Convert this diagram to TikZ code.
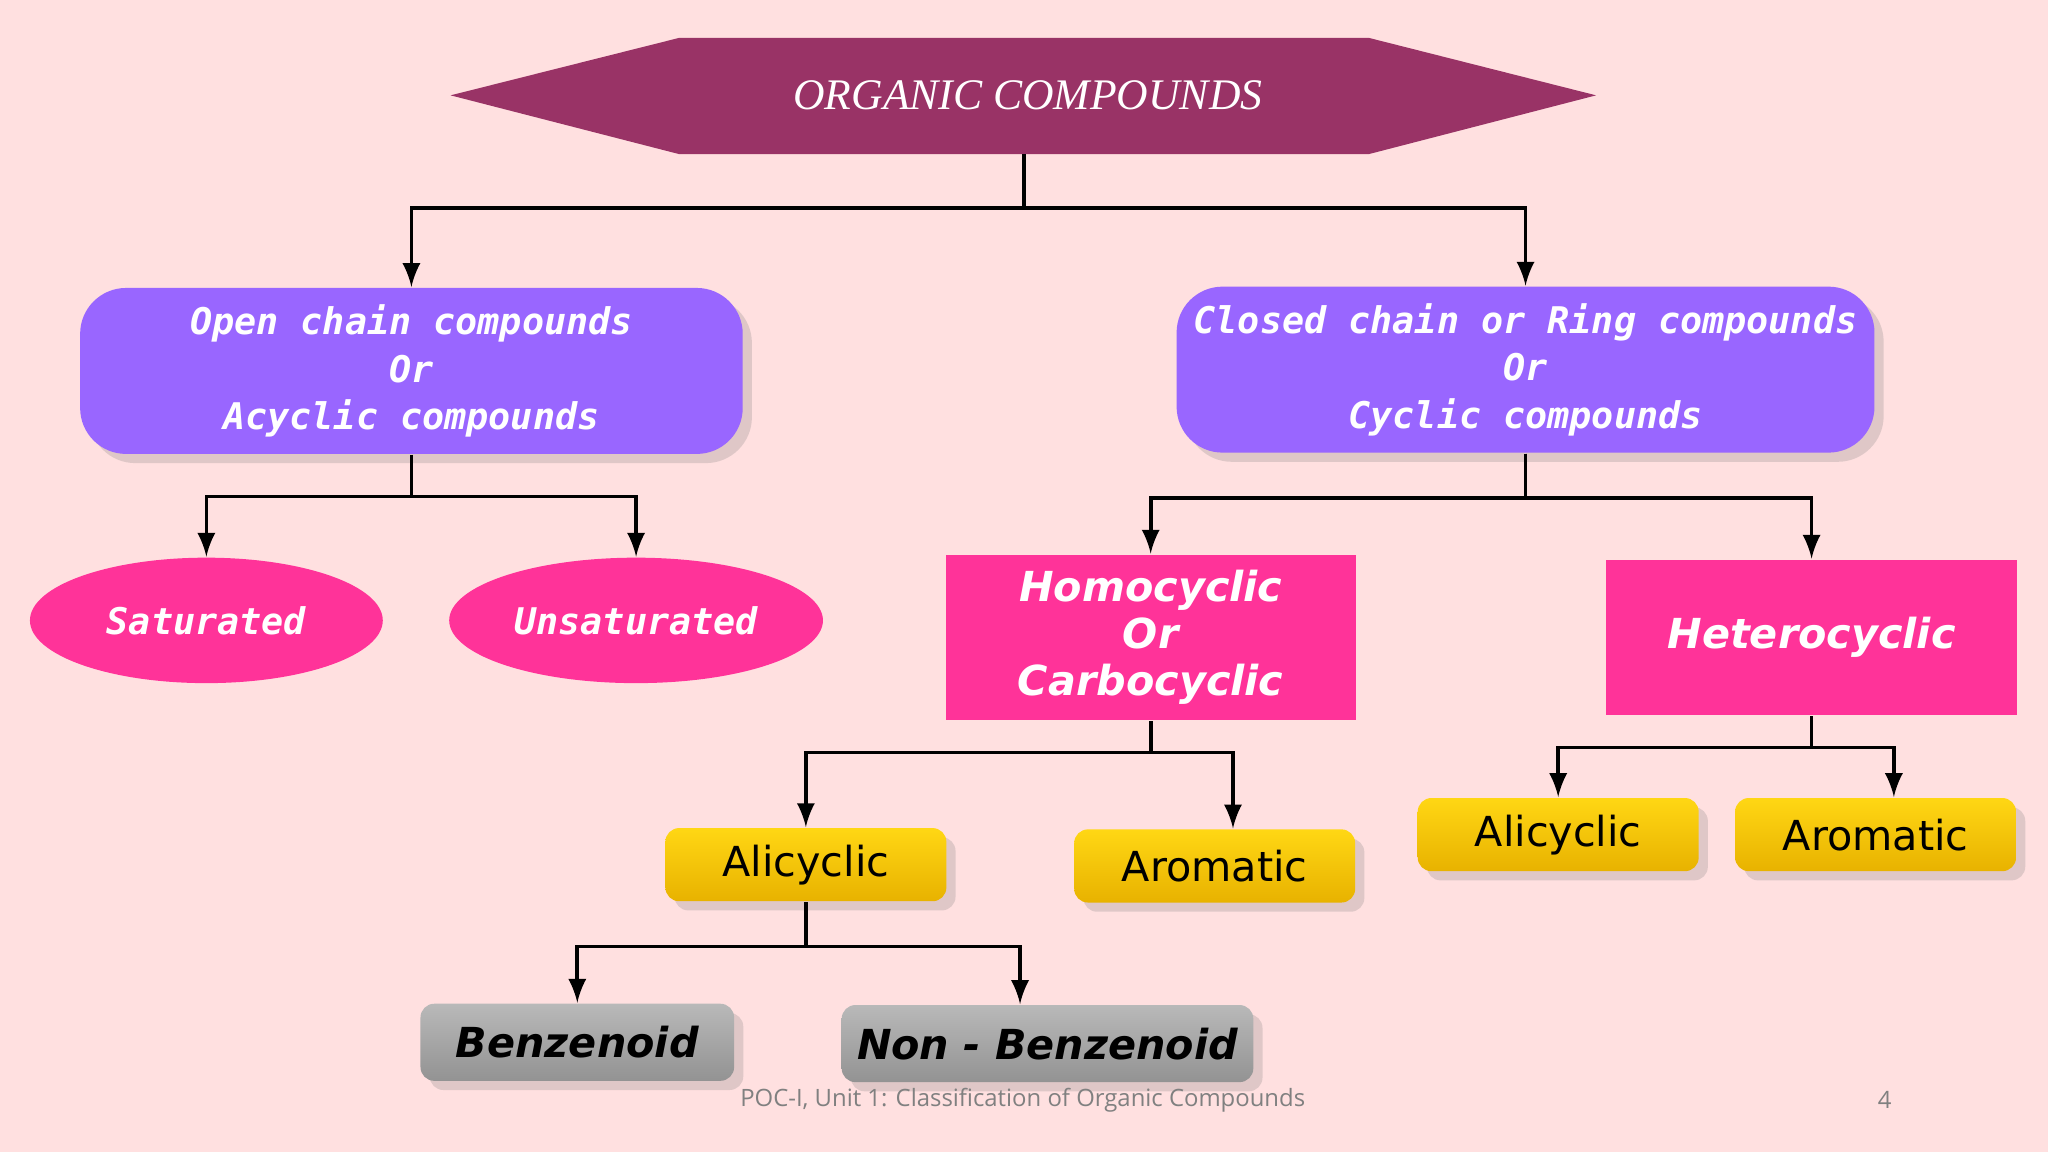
\documentclass[tikz,border=0pt]{standalone}
\usepackage{fontspec}
\setmainfont{Liberation Serif}
\newfontfamily\monofont{DejaVu Sans Mono}
\newfontfamily\sansfont{DejaVu Sans}
\newfontfamily\footfont{Open Sans}
\usetikzlibrary{shapes.geometric,shadows,arrows}
\tikzset{>=latex}
\definecolor{bgpink}{RGB}{255,224,224}
\definecolor{titlered}{RGB}{153,51,102}
\definecolor{boxpurple}{RGB}{153,102,255}
\definecolor{hotpink}{RGB}{255,51,153}
\definecolor{goldtop}{RGB}{255,215,20}
\definecolor{goldbot}{RGB}{232,178,0}
\tikzset{
  purplebox/.style={draw=none,fill=boxpurple,rounded corners=10pt,minimum width=5.07cm,minimum height=1.27cm,
    align=center,text=white,font=\monofont\bfseries\itshape\fontsize{8}{10.3}\selectfont,
    drop shadow={opacity=0.25,shadow xshift=2pt,shadow yshift=-2pt}},
  pinkoval/.style={ellipse,fill=hotpink,text=white,inner sep=0pt,font=\monofont\bfseries\itshape\fontsize{8}{10}\selectfont},
  pinkbox/.style={fill=hotpink,text=white,minimum width=3.14cm,minimum height=1.19cm,align=center,
    font=\sansfont\bfseries\itshape\fontsize{9}{10.3}\selectfont},
  goldbox/.style={top color=goldtop,bottom color=goldbot,rounded corners=3pt,minimum width=2.15cm,minimum height=0.56cm,
    font=\sansfont\fontsize{9}{10}\selectfont,drop shadow={opacity=0.25,shadow xshift=2pt,shadow yshift=-2pt}},
  greybox/.style={top color=gray!55,bottom color=gray!85,rounded corners=3pt,minimum height=0.59cm,
    font=\sansfont\bfseries\itshape\fontsize{9}{10}\selectfont,drop shadow={opacity=0.25,shadow xshift=2pt,shadow yshift=-2pt}},
  link/.style={line width=0.8pt,->},
}
\begin{document}
\begin{tikzpicture}[x=0.01cm,y=-0.01cm]
  % background
  \fill[bgpink] (0,0) rectangle (1568,882);
  \useasboundingbox (0,0) rectangle (1568,882);

  % title
  \fill[titlered] (345,73) -- (520,29) -- (1048,29) -- (1222,73) -- (1048,118) -- (520,118) -- cycle;
  \node[text=white,font=\itshape\fontsize{9.5}{11}\selectfont] (title) at (787,73) {ORGANIC COMPOUNDS};
  \coordinate (titlebase) at (784,118);

  % second level
  \node[purplebox] (open) at (315,284) {Open chain compounds\\Or\\Acyclic compounds};
  \node[purplebox,minimum width=5.34cm] (closed) at (1168,283) {Closed chain or Ring compounds\\Or\\Cyclic compounds};

  % third level
  \node[pinkoval,minimum width=2.7cm,minimum height=0.96cm] (sat) at (158,475) {Saturated};
  \node[pinkoval,minimum width=2.86cm,minimum height=0.96cm] (unsat) at (487,475) {Unsaturated};
  \node[pinkbox] (homo) at (881,488) {Homocyclic\\Or\\Carbocyclic};
  \node[pinkbox] (hetero) at (1387,488) {Heterocyclic};

  % fourth level
  \node[goldbox] (ali) at (617,662) {Alicyclic};
  \node[goldbox] (aro) at (930,663) {Aromatic};
  \node[goldbox] (ali2) at (1193,639) {Alicyclic};
  \node[goldbox] (aro2) at (1436,639) {Aromatic};

  % fifth level
  \node[greybox,minimum width=2.4cm] (benz) at (442,798) {Benzenoid};
  \node[greybox,minimum width=2.83cm] (nonbenz) at (802,799) {Non - Benzenoid};

  % connectors
  \draw[link] (titlebase) -- ++(0,41) -| (open.north);
  \draw[link] (titlebase) -- ++(0,41) -| (closed.north);
  \draw[link] (open.south) -- ++(0,32) -| (sat.north);
  \draw[link] (open.south) -- ++(0,32) -| (unsat.north);
  \draw[link] (closed.south) -- ++(0,34) -| (homo.north);
  \draw[link] (closed.south) -- ++(0,34) -| (hetero.north);
  \draw[link] (homo.south) -- ++(0,24) -| ([xshift=0.14cm]aro.north);
  \draw[link] (homo.south) -- ++(0,24) -| (ali.north);
  \draw[link] (hetero.south) -- ++(0,24) -| (ali2.north);
  \draw[link] (hetero.south) -- ++(0,24) -| ([xshift=0.14cm]aro2.north);
  \draw[link] (ali.south) -- ++(0,34) -| (benz.north);
  \draw[link] (ali.south) -- ++(0,34) -| ([xshift=-0.21cm]nonbenz.north);

  % footer
  \node[text=gray,font=\footfont\fontsize{5.2}{6}\selectfont] (foot) at (783,842) {POC-I, Unit 1: Classification of Organic Compounds};
  \node[text=gray,font=\footfont\fontsize{5.2}{6}\selectfont] (page) at (1443,842) {4};
\end{tikzpicture}
\end{document}
